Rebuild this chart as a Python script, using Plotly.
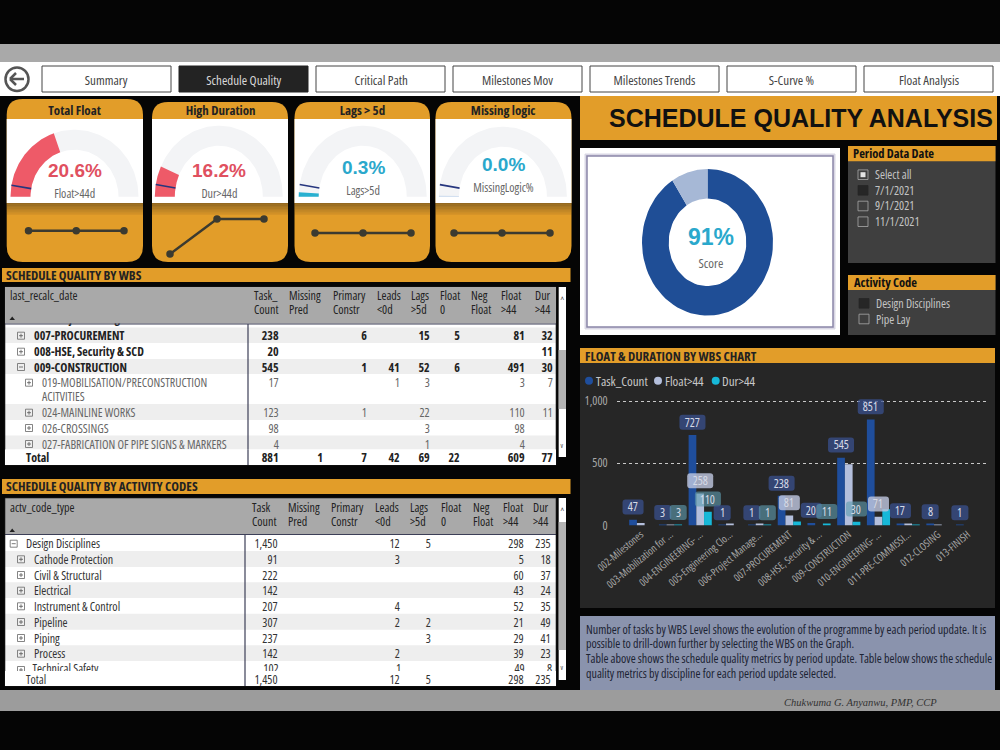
import numpy as np
import plotly.graph_objects as go

# ---- data ----
nav_labels = ['Summary', 'Schedule Quality', 'Critical Path', 'Milestones Mov',
              'Milestones Trends', 'S-Curve %', 'Float Analysis']

card_titles = ['Total Float', 'High Duration', 'Lags > 5d', 'Missing logic']
card_values = ['20.6%', '16.2%', '0.3%', '0.0%']
card_captions = ['Float>44d', 'Dur>44d', 'Lags>5d', 'MissingLogic%']
gauge_share = [39.5, 14.0, 2.0, 0.4]      # share of the half ring that is filled
gauge_target = [5.5, 5.5, 5.5, 5.5]
spark_values = [[20.6, 20.6, 20.6], [7.9, 16.2, 16.2], [0.3, 0.3, 0.3], [0.0, 0.0, 0.0]]

score_value = 91
score_rest = 9

periods = ['Select all', '7/1/2021', '9/1/2021', '11/1/2021']
activity_codes = ['Design Disciplines', 'Pipe Lay']

wbs_cats = ['002-Milestones', '003-Mobilization for ...', '004-ENGINEERING- ...',
            '005-Engineering Clo...', '006-Project Manage...', '007-PROCUREMENT',
            '008-HSE, Security & ...', '009-CONSTRUCTION', '010-ENGINEERING- ...',
            '011-PRE-COMMISSI...', '012-CLOSING', '013-FINISH']
task_count = [47, 3, 727, 1, 1, 238, 20, 545, 851, 17, 8, 1]
float_44 = [20, 1, 258, 8, 8, 81, 0, 491, 71, 8, 6, 0]
dur_44 = [0, 3, 110, 0, 1, 32, 11, 30, 130, 1, 0, 0]
task_labels = [47, 3, 727, 1, 1, 238, 20, 545, 851, 17, 8, 1]
float_labels = [None, None, 258, None, None, 81, None, None, 71, None, None, None]
dur_labels = [None, 3, 110, None, 1, None, 11, 30, None, None, None, None]

wbs_rows = ['006-Project Management', '007-PROCUREMENT', '008-HSE, Security & SCD', '009-CONSTRUCTION',
            '019-MOBILISATION/PRECONSTRUCTION<br>ACITVITIES', '024-MAINLINE WORKS', '026-CROSSINGS',
            '027-FABRICATION OF PIPE SIGNS & MARKERS']
wbs_task = [1, 238, 20, 545, 17, 123, 98, 4]
wbs_missing = [None] * 8
wbs_primary = [None, 6, None, 1, None, 1, None, None]
wbs_leads = [None, None, None, 41, 1, None, None, None]
wbs_lags = [None, 15, None, 52, 3, 22, 3, 1]
wbs_float0 = [None, 5, None, 6, None, None, None, None]
wbs_neg = [None] * 8
wbs_f44 = [None, 81, None, 491, 3, 110, 98, 4]
wbs_dur = [None, 32, 11, 30, 7, 11, None, None]
wbs_total = ['881', '1', '7', '42', '69', '22', '', '609', '77']

code_rows = ['Design Disciplines', 'Cathode Protection', 'Civil & Structural', 'Electrical',
             'Instrument & Control', 'Pipeline', 'Piping', 'Process', 'Technical Safety']
code_task = ['1,450', 91, 222, 142, 207, 307, 237, 142, 102]
code_leads = [12, 3, None, None, 4, 2, None, 2, 1]
code_lags = [5, None, None, None, None, 2, 3, None, None]
code_f44 = [298, 5, 60, 43, 52, 21, 29, 39, 49]
code_dur = [235, 18, 37, 24, 35, 49, 41, 23, 8]
code_total = ['1,450', '12', '5', '298', '235']

note_lines = ['Number of tasks by WBS Level shows the evolution of the programme by each period update. It is',
              'possible to drill-down further by selecting the WBS on the Graph.',
              'Table above shows the schedule quality metrics by period update. Table below shows the schedule',
              'quality metrics by discipline for each period update selected.']

ORANGE = '#e29d29'
BODY = 'Open Sans'
HEAD = 'Open Sans'
ARIAL = 'Liberation Sans'
TBL = 12

shapes = []
notes = []
traces = []


def px(x):
    return x / 1000


def py(y):
    return 1 - y / 750


def rect(x0, y0, x1, y1, fill, line=None, lw=1, layer='below'):
    shapes.append(dict(type='rect', xref='paper', yref='paper', x0=px(x0), x1=px(x1), y0=py(y0), y1=py(y1),
                       fillcolor=fill, line=dict(color=line or 'rgba(0,0,0,0)', width=lw if line else 0), layer=layer))


def rrect_path(x0, y0, x1, y1, rx, ry):
    return (f'M {x0+rx} {y0} L {x1-rx} {y0} Q {x1} {y0} {x1} {y0+ry} L {x1} {y1-ry} Q {x1} {y1} {x1-rx} {y1} '
            f'L {x0+rx} {y1} Q {x0} {y1} {x0} {y1-ry} L {x0} {y0+ry} Q {x0} {y0} {x0+rx} {y0} Z')


def rrect(x0, y0, x1, y1, r, fill, layer='below'):
    shapes.append(dict(type='path', xref='paper', yref='paper', layer=layer, fillcolor=fill, line=dict(width=0),
                       path=rrect_path(px(x0), py(y0), px(x1), py(y1), r / 1000, -r / 750)))


def seg(x0, y0, x1, y1, color, w=1, layer='below'):
    shapes.append(dict(type='line', xref='paper', yref='paper', x0=px(x0), x1=px(x1), y0=py(y0), y1=py(y1),
                       line=dict(color=color, width=w), layer=layer))


def txt(x, y, s, size=12, color='#333333', anchor='left', bold=False, family=BODY, italic=False):
    if bold:
        s = f'<b>{s}</b>'
    if italic:
        s = f'<i>{s}</i>'
    # align follows the anchor: plotly keeps the width it measured with the wide face
    notes.append(dict(x=px(x), y=py(y), xref='paper', yref='paper', text=s, showarrow=False, xanchor=anchor,
                      yanchor='middle', borderpad=0, align=anchor,
                      font=dict(size=size, color=color, family=family)))


def plus_box(x, y, minus=False):
    rect(x - 3.5, y - 3.5, x + 3.5, y + 3.5, 'rgba(0,0,0,0)', '#666666', 0.8)
    seg(x - 2, y, x + 2, y, '#555555', 0.8)
    if not minus:
        seg(x, y - 2, x, y + 2, '#555555', 0.8)


def ring_band(cx, cy, rx, ry, irx, iry, a0, a1, color):
    # ellipse band between two angles, in degrees counted from the x axis
    t = np.radians(np.linspace(a0, a1, 80))
    xs = np.r_[cx + rx * np.cos(t), cx + irx * np.cos(t[::-1])]
    ys = np.r_[cy - ry * np.sin(t), cy - iry * np.sin(t[::-1])]
    traces.append(go.Scatter(x=xs, y=ys, mode='lines', fill='toself', fillcolor=color, line=dict(width=0),
                             hoverinfo='skip', showlegend=False, xaxis='x', yaxis='y'))


# ---- page frame ----
rect(0, 44, 1000, 62, '#a9a9a9')
rect(0, 62, 1000, 96, '#ffffff')
rect(0, 690, 1000, 711, '#9c9c9c')
shapes.append(dict(type='circle', xref='paper', yref='paper', x0=px(5.5), x1=px(28.5), y0=py(67.5), y1=py(91),
                   fillcolor='white', line=dict(color='#555555', width=2.5), layer='below'))
seg(10, 79, 24, 79, '#555555', 2.5)
seg(10, 79, 16, 73, '#555555', 2.5)
seg(10, 79, 16, 85, '#555555', 2.5)

nav_x = [42, 179, 316, 453, 590, 727, 864]
for i, label in enumerate(nav_labels):
    if i == 1:
        rect(nav_x[i], 66, nav_x[i] + 129, 92, '#232323', '#232323')
        txt(nav_x[i] + 64.5, 80, label, 13, '#d8d8d8', 'center')
    else:
        rect(nav_x[i], 66, nav_x[i] + 129, 92, '#ffffff', '#444444', 1)
        txt(nav_x[i] + 64.5, 80, label, 13, '#444444', 'center')

# ---- gauge cards ----
card_x = [(6.7, 143), (152, 288), (294.5, 430), (435.5, 571.5)]
card_top = [99, 102, 102, 102]
gauge_cx = [74.5, 218.8, 362.7, 502.9]
gauge_ry = [67, 71, 71, 70]
value_y = [171, 170, 167, 165]
caption_y = [194, 194, 190, 188]
value_x = [74.5, 219, 363, 503]
card_colors = ['#ee5a68', '#ee5a68', '#29b0d0', '#c7d8ee']
value_colors = ['#e0505f', '#e0505f', '#2aa8cc', '#2aa8cc']
spark_x = [(28.5, 124), (170, 264), (315, 411), (454, 550)]
spark_y = [(220.7, 240.7), (219, 254), (223, 243), (223, 243)]

axes = {}
for i in range(4):
    x0, x1 = card_x[i]
    rrect(x0, card_top[i], x1, 262, 16, ORANGE)
    rect(x0, 119, x1, 203, '#ffffff')
    for k in range(8):
        rect(x0, 203 + k * 1.5, x1, 204.5 + k * 1.5, f'rgba(50,40,25,{0.45 - k * 0.055:.2f})')
    txt((x0 + x1) / 2, 110.5, card_titles[i], 13, '#222222', 'center', True, HEAD)
    cx = gauge_cx[i]
    ry = gauge_ry[i]
    ring_band(cx, 196.7, 64, ry, 44, ry - 20, 0, 180, '#f3f4f6')
    ring_band(cx, 196.7, 64, ry, 44, ry - 20, 180, 180 - 1.8 * gauge_share[i], card_colors[i])
    t = np.radians(1.8 * gauge_target[i])
    traces.append(go.Scatter(x=[cx - 44 * np.cos(t), cx - 64 * np.cos(t)],
                             y=[196.7 - (ry - 20) * np.sin(t), 196.7 - ry * np.sin(t)],
                             mode='lines', line=dict(color='#26367e', width=1.6), hoverinfo='skip',
                             showlegend=False, xaxis='x', yaxis='y'))
    txt(value_x[i], value_y[i], card_values[i], 19, value_colors[i], 'center', True, ARIAL)
    txt(value_x[i], caption_y[i], card_captions[i], 12, '#666666', 'center')

    # small trend line under each gauge, on its own axes (with a margin so the line is not cut)
    n = i + 3
    vals = spark_values[i]
    lo, hi = min(vals), max(vals)
    if lo == hi:
        lo, hi = lo - 1, hi + 1
    pad = (hi - lo) * 0.2
    py_top, py_bot = spark_y[i]
    py_pad = (py_bot - py_top) * 0.2
    axes[f'xaxis{n}'] = dict(domain=[px(spark_x[i][0]), px(spark_x[i][1])], range=[0, 2], visible=False, anchor=f'y{n}')
    axes[f'yaxis{n}'] = dict(domain=[py(py_bot + py_pad), py(py_top - py_pad)], range=[lo - pad, hi + pad],
                             visible=False, anchor=f'x{n}')
    traces.append(go.Scatter(x=[0, 1, 2], y=vals, mode='lines+markers', cliponaxis=False,
                             line=dict(color='#3b3a30', width=2.4), marker=dict(color='#3b3a30', size=7.5),
                             hoverinfo='skip', showlegend=False, xaxis=f'x{n}', yaxis=f'y{n}'))

# ---- title + score card ----
rect(580, 96, 997, 140, ORANGE)
txt(800.5, 118, 'SCHEDULE QUALITY ANALYSIS', 25, '#111111', 'center', True, ARIAL)
rect(580, 148, 840, 335, '#ffffff')
rect(585, 154, 835, 329, '#d9d7e4', '#d9d7e4', 1)
rect(587, 156, 833, 327, '#ffffff', '#8a86a8', 1.5)
score_total = score_value + score_rest
ring_band(707.5, 242.3, 65.5, 73.3, 38.8, 43.8, 90, 90 - 360 * score_value / score_total, '#1f4e96')
ring_band(707.5, 242.3, 65.5, 73.3, 38.8, 43.8, 90, 90 + 360 * score_rest / score_total, '#a6b8d6')
txt(710.7, 236.7, f'{score_value}%', 23, '#2aa8cc', 'center', True, ARIAL)
txt(710.7, 262.7, 'Score', 13, '#666666', 'center')

# ---- slicers ----
rect(848, 146, 995.5, 263, '#3f3f3f')
rect(848, 146, 995.5, 161.3, ORANGE)
txt(852, 153.5, 'Period Data Date', 12.5, '#111111', 'left', True, HEAD)
period_y = [174.7, 190.3, 206, 221.7]
for i, p in enumerate(periods):
    fill = '#262626' if i == 1 else 'rgba(0,0,0,0)'
    rect(858, period_y[i] - 4.8, 868, period_y[i] + 4.8, fill, '#262626' if i == 1 else '#a8a8a8', 0.8)
    if i == 0:
        rect(860.5, period_y[i] - 2.5, 865.5, period_y[i] + 2.5, '#e4e4e4')
    txt(874, period_y[i], p, 12, '#c4c4c4')
rect(848, 275, 995.5, 335, '#3f3f3f')
rect(848, 275, 995.5, 290, ORANGE)
txt(853, 282.5, 'Activity Code', 12.5, '#111111', 'left', True, HEAD)
code_y = [303.3, 319]
for i, p in enumerate(activity_codes):
    rect(859, code_y[i] - 4.8, 869, code_y[i] + 4.8, '#262626' if i == 0 else 'rgba(0,0,0,0)',
         '#262626' if i == 0 else '#a8a8a8', 0.8)
    txt(874.7, code_y[i], p, 12, '#c4c4c4')

# ---- WBS table ----
rect(2, 268, 570.5, 282, ORANGE)
txt(5, 275, 'SCHEDULE QUALITY BY WBS', 13, '#222222', 'left', True, HEAD)
rect(5, 287, 556, 465, '#ffffff')
rect(5, 287, 556, 323.5, '#a9a9a9', layer='above')
for y0, y1 in [(327.5, 343), (359, 374), (404, 420), (435.5, 449.5)]:
    rect(5, y0, 556, y1, '#eeeeee')
seg(5, 324, 556, 324, '#3c3f57', 1.2, 'above')
seg(248, 324, 248, 465, '#3c3f57', 1.2)
rect(5, 449.5, 556, 465, '#ffffff', layer='above')
seg(248, 449.5, 248, 465, '#3c3f57', 1.2, 'above')
rect(5, 287, 556, 465, 'rgba(0,0,0,0)', '#222222', 0.6)
rect(558.7, 287, 566, 457, '#ffffff')
rect(558.7, 350, 566, 409, '#b4b4b4')
txt(562.3, 299, '^', 8, '#444444', 'center')
txt(562.3, 445, 'v', 7, '#444444', 'center')
txt(9, 295.7, 'last_recalc_date', TBL, '#222222')
shapes.append(dict(type='path', xref='paper', yref='paper', layer='above', fillcolor='#222222', line=dict(width=0),
                   path=f'M {px(9.5)} {py(320)} L {px(15)} {py(320)} L {px(12.2)} {py(316.5)} Z'))
wbs_heads = [('Task_', 'Count', 253), ('Missing', 'Pred', 288), ('Primary', 'Constr', 332), ('Leads', '<0d', 376),
             ('Lags', '>5d', 410), ('Float', '0', 439), ('Neg', 'Float', 469.5), ('Float', '>44', 499.5),
             ('Dur', '>44', 534)]
for a, b, x in wbs_heads:
    txt(x, 295.7, a, TBL, '#222222')
    txt(x, 309.7, b.replace('<', '&lt;'), TBL, '#222222')
wbs_right = [280, 323.7, 368, 401, 431, 461, 492, 526, 554]
wbs_y = [320, 335.7, 351.7, 367, 382.7, 412.7, 428, 444]
wbs_cols = [wbs_task, wbs_missing, wbs_primary, wbs_leads, wbs_lags, wbs_float0, wbs_neg, wbs_f44, wbs_dur]
for r, label in enumerate(wbs_rows):
    top = r < 4
    color = '#222222' if top else '#666666'
    if r == 0:
        # row scrolled away under the header, drawn below the cover
        traces.append(go.Scatter(x=[32.6], y=[wbs_y[r]], text=[f'<b>{label}</b>'], mode='text', textposition='middle right',
                                 textfont=dict(size=TBL, color=color, family=BODY), hoverinfo='skip',
                                 showlegend=False, xaxis='x', yaxis='y'))
        continue
    plus_box(21 if top else 29, wbs_y[r], r == 3)
    if '<br>' in label:
        a, b = label.split('<br>')
        txt(40.7, wbs_y[r], a, TBL, color)
        txt(40.7, wbs_y[r] + 14, b, TBL, color)
    else:
        txt(32.6 if top else 40.7, wbs_y[r], label.replace('&', '&amp;'), TBL, color, 'left', top)
    for c, col in enumerate(wbs_cols):
        if col[r] is not None:
            txt(wbs_right[c], wbs_y[r], f'{col[r]}', TBL, color, 'right', top)
txt(25, 457.7, 'Total', TBL, '#222222', 'left', True)
for c, v in enumerate(wbs_total):
    if v:
        txt(wbs_right[c], 457.7, v, TBL, '#222222', 'right', True)

# ---- activity code table ----
rect(2, 479, 570.5, 494, ORANGE)
txt(5, 486.5, 'SCHEDULE QUALITY BY ACTIVITY CODES', 13, '#222222', 'left', True, HEAD)
rect(5, 498, 556, 686, '#ffffff')
rect(5, 498, 556, 534, '#a9a9a9')
for y0, y1 in [(551, 567), (582.3, 598), (613.7, 629.7), (645.3, 661)]:
    rect(5, y0, 556, y1, '#eeeeee')
seg(5, 534.5, 556, 534.5, '#3c3f57', 1.2)
seg(245, 534, 245, 686, '#3c3f57', 1.2)
rect(5, 671, 556, 686, '#ffffff', layer='above')
seg(245, 671, 245, 686, '#3c3f57', 1.2, 'above')
rect(5, 498, 556, 686, 'rgba(0,0,0,0)', '#222222', 0.6)
rect(558.7, 498, 566, 680, '#ffffff')
rect(558.7, 522, 566, 650, '#b4b4b4')
txt(562.3, 510, '^', 8, '#444444', 'center')
txt(562.3, 667, 'v', 7, '#444444', 'center')
txt(9, 507, 'actv_code_type', TBL, '#222222')
shapes.append(dict(type='path', xref='paper', yref='paper', layer='below', fillcolor='#222222', line=dict(width=0),
                   path=f'M {px(9.5)} {py(532)} L {px(15)} {py(532)} L {px(12.2)} {py(528.5)} Z'))
code_heads = [('Task', 'Count', 250.5), ('Missing', 'Pred', 286.7), ('Primary', 'Constr', 329.6), ('Leads', '<0d', 374),
              ('Lags', '>5d', 409), ('Float', '0', 440), ('Neg', 'Float', 472), ('Float', '>44', 502), ('Dur', '>44', 532)]
for a, b, x in code_heads:
    txt(x, 507, a, TBL, '#222222')
    txt(x, 521, b.replace('<', '&lt;'), TBL, '#222222')
code_y_rows = [543.7, 559.3, 575, 590.7, 606.3, 622, 638, 653.7, 670]
code_right = [278.6, 401, 432, 524.6, 552]
code_cols = [code_task, code_leads, code_lags, code_f44, code_dur]
for r, label in enumerate(code_rows):
    y = code_y_rows[r]
    if r == len(code_rows) - 1:
        # bottom row is cut by the total row
        plus_box(21, y, False)
        xs = [32.6] + [code_right[c] for c, col in enumerate(code_cols) if col[r] is not None]
        ss = [label.replace('&', '&amp;')] + [f'{col[r]}' for col in code_cols if col[r] is not None]
        pos = ['middle right'] + ['middle left'] * (len(xs) - 1)
        traces.append(go.Scatter(x=xs, y=[y] * len(xs), text=ss, mode='text', textposition=pos,
                                 textfont=dict(size=TBL, color='#333333', family=BODY), hoverinfo='skip',
                                 showlegend=False, xaxis='x', yaxis='y'))
        continue
    plus_box(13.7 if r == 0 else 21, y, r == 0)
    txt(25 if r == 0 else 32.6, y, label.replace('&', '&amp;'), TBL, '#333333', 'left', False)
    for c, col in enumerate(code_cols):
        if col[r] is not None:
            txt(code_right[c], y, f'{col[r]}', TBL, '#333333', 'right')
txt(25, 679, 'Total', TBL, '#333333')
for c, v in enumerate(code_total):
    txt(code_right[c], 679, v, TBL, '#333333', 'right')

# ---- column chart panel ----
rect(580, 348, 995, 363, ORANGE)
txt(584, 355.5, 'FLOAT &amp; DURATION BY WBS CHART', 13, '#222222', 'left', True, HEAD)
rect(580, 363, 995, 608, '#262626')
for cx, tx, label, color in [(589, 594.7, 'Task_Count', '#1f4e9c'), (658, 663.7, 'Float>44', '#b4bfdc'),
                             (715.7, 721.3, 'Dur>44', '#17b8d8')]:
    shapes.append(dict(type='circle', xref='paper', yref='paper', x0=px(cx - 4), x1=px(cx + 4), y0=py(376.7), y1=py(384.7),
                       fillcolor=color, line=dict(width=0), layer='below'))
    txt(tx, 380.7, label.replace('>', '&gt;'), 13, '#c8c8c8', 'left')

series = [('Task_Count', task_count, '#1f4e9c'), ('Float>44', float_44, '#b4bfdc'), ('Dur>44', dur_44, '#17b8d8')]
for name, vals, color in series:
    traces.append(go.Bar(x=wbs_cats, y=vals, name=name, marker=dict(color=color, line=dict(width=0)),
                         showlegend=False, xaxis='x2', yaxis='y2'))

Y_UNIT = 124.5 / 1000        # pixels per task on the value axis
X_UNIT = 29.7                # pixels per category


def value_for_box(value):
    # the data label floats a fixed distance above the top of its bar
    return value + 102


def label_box(i, off, value, fill):
    digits = len(str(value))
    w = {1: 8.5, 2: 10.5, 3: 13}[digits] / X_UNIT
    h = 7.5 / Y_UNIT
    cx = i + off
    cy = value_for_box(value)
    rxx = 3 / X_UNIT
    ryy = 3 / Y_UNIT
    shapes.append(dict(type='path', xref='x2', yref='y2', layer='above', fillcolor=fill, line=dict(width=0),
                       path=rrect_path(cx - w, cy - h, cx + w, cy + h, rxx, ryy)))
    notes.append(dict(x=cx, y=cy, xref='x2', yref='y2', text=str(value), showarrow=False, borderpad=0,
                      font=dict(size=12, color='#d6dae6', family=BODY)))


for i in range(len(wbs_cats)):
    if task_labels[i] is not None:
        label_box(i, -0.26, task_labels[i], 'rgba(58,82,146,0.72)')
    if float_labels[i] is not None:
        label_box(i, 0, float_labels[i], 'rgba(190,198,222,0.82)')
    if dur_labels[i] is not None:
        label_box(i, 0.26, dur_labels[i], 'rgba(96,156,176,0.62)')

rect(580, 616, 995, 690, '#8a93ad')
for y, line in zip([629, 643.7, 658.7, 673.3], note_lines):
    txt(584.7, y, line, 12, '#1c2333')
txt(860, 702, 'Chukwuma G. Anyanwu, PMP, CCP', 10.5, '#333333', 'center', False, 'Liberation Serif', True)

layout = dict(
    width=1000, height=750, margin=dict(l=0, r=0, t=0, b=0),
    paper_bgcolor='#050505', plot_bgcolor='rgba(0,0,0,0)',
    barmode='group', bargap=0.22, bargroupgap=0, showlegend=False,
    xaxis=dict(domain=[0, 1], range=[0, 1000], visible=False, fixedrange=True),
    yaxis=dict(domain=[0, 1], range=[750, 0], visible=False, fixedrange=True),
    xaxis2=dict(domain=[px(617), px(989)], range=[-0.8, 11.72], anchor='y2', type='category',
                categoryorder='array', categoryarray=wbs_cats, tickangle=-40, showgrid=False,
                tickfont=dict(size=10.5, color='#a8a8a8', family=BODY), ticks='', automargin=False),
    yaxis2=dict(domain=[py(525.5), py(525.5 - 1060 * Y_UNIT)], range=[0, 1060], anchor='x2',
                tickvals=[0, 500, 1000], ticktext=['0', '500', '1,000'], gridcolor='#c8c8c8', griddash='dot',
                gridwidth=1, zeroline=False, ticks='outside', ticklen=6, tickcolor='rgba(0,0,0,0)',
                tickfont=dict(size=12, color='#a8a8a8', family=BODY), automargin=False),
    shapes=shapes, annotations=notes,
)
layout.update(axes)

fig = go.Figure(data=traces, layout=layout)
# narrow face of Open Sans, applied before a redraw so plotly measures the narrow text
fig.write_html('out.html', config=dict(displayModeBar=False),
               post_script="document.body.style.margin='0';document.body.style.overflow='hidden';"
                           "var s=document.createElement('style');s.textContent='text{font-stretch:75% !important}';"
                           "document.head.appendChild(s);Plotly.redraw('{plot_id}');")
